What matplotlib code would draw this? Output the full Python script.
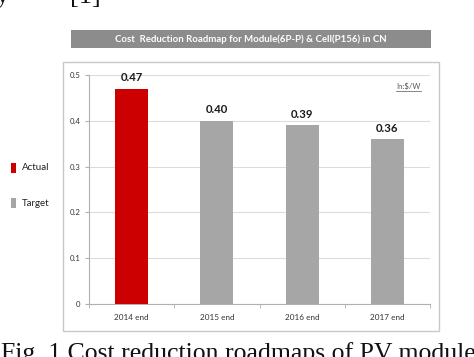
import matplotlib
matplotlib.use("Agg")
import matplotlib.pyplot as plt
from matplotlib.patches import Rectangle
from matplotlib.lines import Line2D
import numpy as np

categories = ["2014 end", "2015 end", "2016 end", "2017 end"]
values = [0.47, 0.40, 0.39, 0.36]
value_labels = ["0.47", "0.40", "0.39", "0.36"]
kinds = ["Actual", "Target", "Target", "Target"]
yticks = [0, 0.1, 0.2, 0.3, 0.4, 0.5]
ytick_labels = ["0", "0.1", "0.2", "0.3", "0.4", "0.5"]
title = "Cost  Reduction Roadmap for Module(6P-P) & Cell(P156) in CN"
unit = "In:\\$/W"
caption = "Fig. 1 Cost reduction roadmaps of PV module and"

colors = {"Actual": "#cc0000", "Target": "#a6a6a6"}
FONT = ["Lato", "DejaVu Sans"]

W, H = 474, 357
fig = plt.figure(figsize=(W / 100, H / 100), dpi=100)
fig.patch.set_facecolor("white")

def fx(px):
    return px / W

def fy(py):
    return 1 - py / H

# outer chart box
fig.add_artist(Rectangle((fx(63), fy(331)), fx(439) - fx(63), fy(62) - fy(331),
                         transform=fig.transFigure, facecolor="white",
                         edgecolor="#c8c8c8", lw=1.0, zorder=0))
# title bar
fig.add_artist(Rectangle((fx(71), fy(48)), fx(431) - fx(71), fy(30) - fy(48),
                         transform=fig.transFigure, facecolor="#8c8c8c",
                         edgecolor="none", zorder=1))
fig.text(fx(251), fy(39.5), title, ha="center", va="center", color="white",
         fontsize=6.9, fontweight="bold", family=FONT, zorder=2)

ax = fig.add_axes([fx(89), fy(304), fx(430) - fx(89), fy(75) - fy(304)])
ax.set_facecolor("none")
x = np.arange(len(categories))
bars = ax.bar(x, values, width=0.39, color=[colors[k] for k in kinds], zorder=3)
for xi, v, lab in zip(x, values, value_labels):
    ax.text(xi, v + 0.012, lab, ha="center", va="bottom", fontsize=8.2,
            fontweight="bold", family=FONT, color="#1a1a1a")

ax.set_xlim(-0.5, len(categories) - 0.5)
ax.set_ylim(0, 0.5)
ax.set_yticks(yticks)
ax.set_yticklabels(ytick_labels, family=FONT, fontsize=5.6, color="#333333")
ax.set_xticks(x)
ax.set_xticklabels(categories, family=FONT, fontsize=5.9, color="#333333")
ax.tick_params(axis="x", which="major", length=0, pad=7)
ax.set_xticks(np.arange(-0.5, len(categories), 1.0), minor=True)
ax.tick_params(axis="x", which="minor", length=3, color="#b0b0b0", direction="out")
ax.tick_params(axis="y", length=3, color="#b0b0b0", pad=3)
ax.yaxis.grid(True, color="#dcdcdc", lw=0.8, zorder=0)
ax.set_axisbelow(True)
for s in ["top", "right"]:
    ax.spines[s].set_visible(False)
for s in ["left", "bottom"]:
    ax.spines[s].set_color("#b0b0b0")
    ax.spines[s].set_linewidth(0.8)

# unit label, underlined
fig.text(fx(421), fy(89), unit, ha="right", va="baseline", fontsize=5.6,
         family=FONT, color="#555555")
fig.add_artist(Line2D([fx(396), fx(421)], [fy(90.5), fy(90.5)],
                      transform=fig.transFigure, color="#555555", lw=0.5))

# legend outside the box
for k, yc in [("Actual", 168), ("Target", 203)]:
    fig.add_artist(Rectangle((fx(11), fy(yc + 5)), fx(5), fy(yc - 5) - fy(yc + 5),
                             transform=fig.transFigure, facecolor=colors[k],
                             edgecolor="none"))
    fig.text(fx(22), fy(yc), k, ha="left", va="center", fontsize=7,
             family=FONT, color="#222222")

# fragments of the surrounding page text
serif = ["Liberation Serif", "DejaVu Serif"]
fig.text(fx(1), fy(360), caption, ha="left", va="baseline", fontsize=18.5,
         family=serif, color="#111111")
fig.text(fx(-4), fy(3), "y", ha="left", va="baseline", fontsize=19,
         family=serif, color="#111111")
fig.text(fx(70), fy(3), "[1]", ha="left", va="baseline", fontsize=19,
         family=serif, color="#111111")

fig.savefig("out.png", dpi=100, facecolor="white")
